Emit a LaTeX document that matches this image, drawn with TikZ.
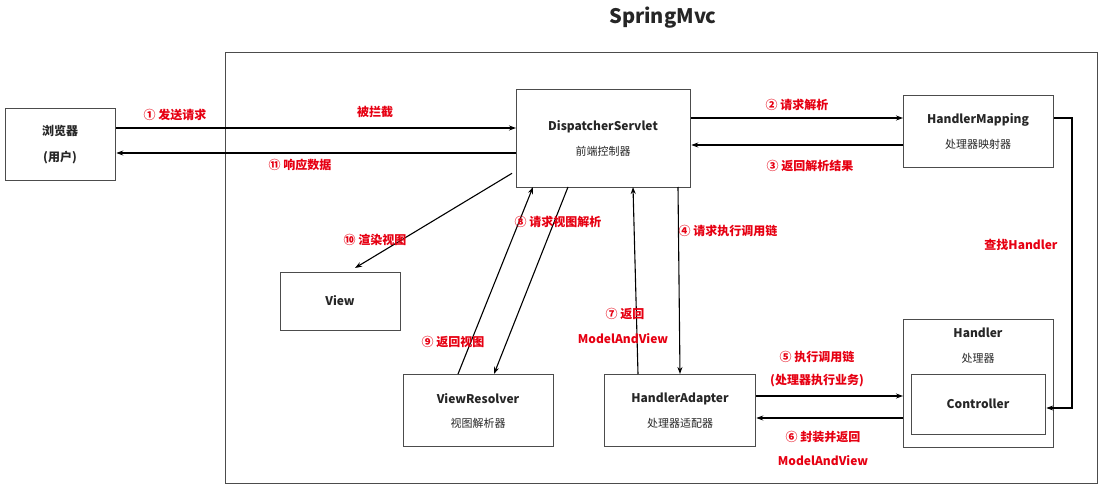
\documentclass[tikz,border=0pt]{standalone}
\usepackage{fontspec}
\setmainfont{Noto Sans CJK SC}
\usetikzlibrary{arrows.meta}
\definecolor{lab}{RGB}{230,0,18}
\begin{document}
\begin{tikzpicture}[x=1pt,y=-1pt,
  box/.style={draw=black!70,line width=1.3pt,anchor=north west,inner sep=0},
  t/.style={font=\fontsize{12}{14}\selectfont\bfseries,text=black!85},
  s/.style={font=\fontsize{11}{13}\selectfont,text=black!85},
  lb/.style={font=\fontsize{12}{14}\selectfont\bfseries,text=lab},
  ar/.style={-{Stealth[length=7pt,width=5pt]},line width=1.1pt}]
\useasboundingbox (0,0) rectangle (1100,487);
\node[font=\fontsize{20}{22}\selectfont\bfseries,text=black!85] (title) at (663,18) {SpringMvc};
\node[box,minimum width=872,minimum height=431] (outer) at (225,52) {};
\node[box,minimum width=110,minimum height=72] (br) at (5,108) {};
\node[t] at (60,131) {浏览器}; \node[t] at (60,158) {(用户)};
\node[box,minimum width=174,minimum height=98] (ds) at (516,89) {};
\node[t] at (603,127) {DispatcherServlet}; \node[s] at (603,151) {前端控制器};
\node[box,minimum width=150,minimum height=72] (hm) at (903,95) {};
\node[t] at (978,120) {HandlerMapping}; \node[s] at (978,144) {处理器映射器};
\node[box,minimum width=120,minimum height=58] (view) at (280,272) {};
\node[t] at (340,301) {View};
\node[box,minimum width=150,minimum height=72] (vr) at (403,374) {};
\node[t] at (478,399) {ViewResolver}; \node[s] at (478,423) {视图解析器};
\node[box,minimum width=151,minimum height=72] (ha) at (604,374) {};
\node[t] at (680,399) {HandlerAdapter}; \node[s] at (680,423) {处理器适配器};
\node[box,minimum width=150,minimum height=128] (h) at (903,319) {};
\node[t] at (978,333) {Handler}; \node[s] at (978,358) {处理器};
\node[box,minimum width=134,minimum height=60] (ctl) at (911,374) {};
\node[t] at (978,404) {Controller};
% arrows
\draw[ar] (br.east|-0,128) -- (ds.west|-0,128);
\draw[ar] (ds.west|-0,153) -- (br.east|-0,153);
\draw[ar] (ds.east|-0,118) -- (hm.west|-0,118);
\draw[ar] (hm.west|-0,145) -- (ds.east|-0,145);
\coordinate (c1) at (1072,118); \coordinate (c2) at (1072,408);
\draw[ar] (hm.east|-0,118) -- (c1) -- (c2) -- (ctl.east|-0,408);
\draw[ar] (ds.south west)++(-4,-15) -- (355,268);
\draw[ar] (458,374) -- (533,187);
\draw[ar] (568,187) -- (494,374);
\draw[ar] (678,187) -- (680,374);
\draw[ar] (638,374) -- (633,187);
\draw[ar] (ha.east|-0,396) -- (h.west|-0,396);
\draw[ar] (h.west|-0,418) -- (ha.east|-0,418);
% labels
\node[lb] at (175,115) {① 发送请求};
\node[lb] at (375,112) {被拦截};
\node[lb] at (300,165) {⑪ 响应数据};
\node[lb] at (797,105) {② 请求解析};
\node[lb] at (810,166) {③ 返回解析结果};
\node[lb] at (1021,245) {查找Handler};
\node[lb] at (375,240) {⑩ 渲染视图};
\node[lb] at (558,222) {⑧ 请求视图解析};
\node[lb] at (453,342) {⑨ 返回视图};
\node[lb] at (728,231) {④ 请求执行调用链};
\node[lb] at (625,314) {⑦ 返回};
\node[lb] at (623,339) {ModelAndView};
\node[lb] at (817,357) {⑤ 执行调用链};
\node[lb] at (817,381) {(处理器执行业务)};
\node[lb] at (823,437) {⑥ 封装并返回};
\node[lb] at (823,461) {ModelAndView};
\end{tikzpicture}
\end{document}
